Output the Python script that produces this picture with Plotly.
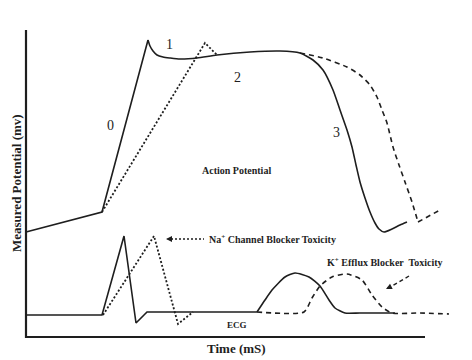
import plotly.graph_objects as go

# Schematic curves, coordinates in image units (x right, y down)
ap_rise_x = [26, 102, 148]
ap_rise_y = [232, 212, 40]
ap_plateau_x = [148, 150, 153, 157, 163, 170, 180, 197, 217, 250, 280, 300, 313, 323, 333, 340, 347, 352, 356, 360, 365, 370, 375, 379, 384, 392, 400, 407]
ap_plateau_y = [40, 46, 51, 55, 57, 58, 59, 58, 55, 52, 51, 53, 60, 70, 90, 110, 130, 147, 165, 182, 198, 212, 223, 229, 232, 229, 225, 222]
ap_k_x = [300, 323, 347, 360, 370, 377, 382, 387, 393, 399, 405, 412, 418]
ap_k_y = [53, 58, 67, 75, 85, 97, 110, 123, 147, 165, 182, 202, 222]
ap_k_tail_x = [418, 440]
ap_k_tail_y = [222, 210]
ap_na_x = [102, 205, 217]
ap_na_y = [212, 43, 55]

ecg_x = [26, 102, 124, 136, 147, 257]
ecg_y = [315, 315, 236, 323, 312, 312]
ecg_t_x = [257, 265, 272, 285, 295, 309, 320, 329, 335, 345, 360, 395]
ecg_t_y = [312, 300, 290, 277, 273, 277, 286, 300, 308, 313, 313, 313]
ecg_k_x = [257, 304, 312, 320, 332, 347, 362, 372, 382, 392, 420, 449]
ecg_k_y = [312, 312, 298, 286, 277, 274, 280, 295, 307, 313, 313, 314]
ecg_na_x = [103, 154, 178, 193]
ecg_na_y = [315, 236, 324, 312]

axis_x = [26, 26, 425]
axis_y = [30, 337, 337]

phase_labels = ["0", "1", "2", "3"]
phase_x = [110, 169, 237, 336]
phase_y = [125, 44, 77, 132]

INK = "#1e1e1e"
fig = go.Figure()

def add(x, y, dash="solid", shape="linear", width=1.6, smoothing=0.6):
    fig.add_trace(go.Scatter(x=x, y=y, mode="lines", hoverinfo="skip",
                             line=dict(color=INK, width=width, dash=dash, shape=shape, smoothing=smoothing)))

add(axis_x, axis_y, width=2.2)
add(ap_rise_x, ap_rise_y)
add(ap_plateau_x, ap_plateau_y, shape="spline")
add(ap_k_x, ap_k_y, dash="5px,4px", shape="spline")
add(ap_k_tail_x, ap_k_tail_y, dash="5px,4px")
add(ap_na_x, ap_na_y, dash="2px,2px", width=1.8)
add(ecg_x, ecg_y)
add(ecg_t_x, ecg_t_y, shape="spline")
add(ecg_k_x, ecg_k_y, dash="5px,4px", shape="spline")
add(ecg_na_x, ecg_na_y, dash="2px,2px", width=1.8)
# annotation arrow tails
add([171, 204], [239, 239], dash="2px,2px", width=1.5)
add([409, 392], [276, 286], dash="4px,3px", width=1.4)

serif = "Liberation Serif"
ann = []
for t, x, y in zip(phase_labels, phase_x, phase_y):
    ann.append(dict(x=x, y=y, text=t, showarrow=False, font=dict(family=serif, size=14, color=INK)))
ann += [
    dict(x=236, y=170, text="<b>Action Potential</b>", showarrow=False, font=dict(family=serif, size=10, color=INK)),
    dict(x=207, y=239, text="<b>Na<sup>+</sup> Channel Blocker Toxicity</b>", xanchor="left", showarrow=False,
         font=dict(family=serif, size=10, color=INK)),
    dict(x=325, y=262, text="<b>K<sup>+</sup> Efflux Blocker  Toxicity</b>", xanchor="left", showarrow=False,
         font=dict(family=serif, size=10, color=INK)),
    dict(x=237, y=325, text="<b>ECG</b>", showarrow=False, font=dict(family=serif, size=9, color=INK)),
    dict(x=236, y=348, text="<b>Time (mS)</b>", showarrow=False, font=dict(family=serif, size=13, color=INK)),
    dict(x=16, y=183, text="<b>Measured Potential (mv)</b>", textangle=-90, showarrow=False,
         font=dict(family=serif, size=13, color=INK)),
    dict(x=166, y=239, ax=174, ay=239, axref="x", ayref="y", xref="x", yref="y", text="",
         showarrow=True, arrowhead=2, arrowsize=1, arrowwidth=1.2, arrowcolor=INK),
    dict(x=386, y=289, ax=392, ay=286, axref="x", ayref="y", xref="x", yref="y", text="",
         showarrow=True, arrowhead=2, arrowsize=1, arrowwidth=1.2, arrowcolor=INK),
]

fig.update_layout(
    width=472, height=360, margin=dict(l=0, r=0, t=0, b=0),
    paper_bgcolor="white", plot_bgcolor="white", showlegend=False,
    xaxis=dict(range=[0, 472], visible=False, fixedrange=True),
    yaxis=dict(range=[360, 0], visible=False, fixedrange=True),
    annotations=ann,
)
fig.write_html("out.html")
